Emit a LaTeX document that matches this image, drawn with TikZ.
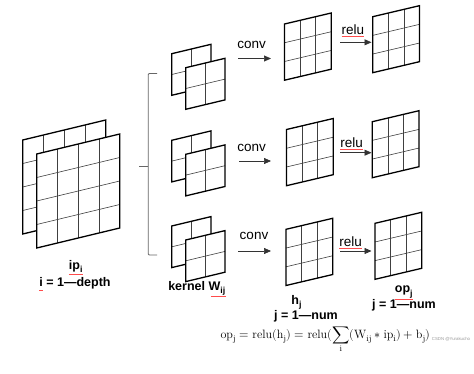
\documentclass[tikz,border=0pt]{standalone}
\usepackage{fontspec}
\usepackage{unicode-math}
\newfontfamily\lblfont{Liberation Sans}
\usetikzlibrary{arrows.meta}
\tikzset{
  gridline/.style={draw=black!75, line width=0.6pt},
  sheetline/.style={draw=black, line width=1.3pt, line join=miter},
  flow/.style={draw=black!80, line width=0.7pt, -{Triangle[length=7pt,width=6pt]}},
  oplabel/.style={font=\lblfont\fontsize{13.5}{15}\selectfont, inner sep=0pt},
  boldlabel/.style={font=\lblfont\bfseries\fontsize{12.5}{14}\selectfont, inner sep=0pt},
  redul/.style={draw=red!70, line width=0.45pt},
  bracket/.style={draw=black!60, line width=0.8pt, rounded corners=1pt}
}
% #1 x, #2 y (top-left), #3 width, #4 height, #5 rise of right edge, #6 cells per side
\newcommand\gridsheet[6]{%
  \fill[white] (#1,#2) -- ++(#3,-#5) -- ++(0,#4) -- ++(-#3,#5) -- cycle;
  \pgfmathtruncatemacro\sheetm{#6-1}
  \foreach \k in {1,...,\sheetm}{
    \draw[gridline] ({#1+\k*#3/#6},{#2-\k*#5/#6}) -- ++(0,#4);
    \draw[gridline] (#1,{#2+\k*#4/#6}) -- ++(#3,-#5);
  }
  \draw[sheetline] (#1,#2) -- ++(#3,-#5) -- ++(0,#4) -- ++(-#3,#5) -- cycle;
}
\begin{document}
\begin{tikzpicture}[x=1pt,y=-1pt]
\fill[white] (0,0) rectangle (474,373);
\useasboundingbox (0,0) rectangle (474,373);

% input stack
\gridsheet{22.7}{140}{83}{94}{20}{4}
\gridsheet{36.7}{154}{83}{94}{20}{4}

% bracket
\coordinate (bt) at (157,73.5);
\coordinate (bb) at (157,255);
\coordinate (bm) at (139,166.5);
\draw[bracket] (bt) -- (148.3,73.5) -- (148.3,255) -- (bb);
\draw[bracket] (148.3,166.5) -- (bm);

% kernels
\foreach \yk in {67.7,154.3,240}{
  \gridsheet{171.7}{\yk-14}{39.3}{41.6}{9.4}{2}
  \gridsheet{185.7}{\yk}{39.3}{41.6}{9.4}{2}
}

% hidden layers
\gridsheet{284.5}{24}{46.7}{56.2}{11}{3}
\gridsheet{286.5}{129.5}{46.7}{56.2}{11}{3}
\gridsheet{286}{229.3}{46.7}{56.2}{11}{3}

% outputs
\gridsheet{372.7}{16.7}{46.7}{56}{11}{3}
\gridsheet{372.3}{121.7}{46.7}{56}{11}{3}
\gridsheet{375}{223.3}{46.7}{56}{11}{3}

% conv arrows
\coordinate (c1s) at (238,58.5); \coordinate (c1e) at (271,58.5);
\coordinate (c2s) at (239,161);  \coordinate (c2e) at (271,161);
\coordinate (c3s) at (238,251);  \coordinate (c3e) at (271,251);
\draw[flow] (c1s) -- (c1e);
\draw[flow] (c2s) -- (c2e);
\draw[flow] (c3s) -- (c3e);
\node[oplabel] (conv1) at (251.7,45) {conv};
\node[oplabel] (conv2) at (251.7,148.3) {conv};
\node[oplabel] (conv3) at (254,236) {conv};

% relu arrows
\coordinate (r1s) at (340,42.3);  \coordinate (r1e) at (371.5,42.3);
\coordinate (r2s) at (340,152.7); \coordinate (r2e) at (371.5,152.7);
\coordinate (r3s) at (340,251);   \coordinate (r3e) at (371.5,251);
\draw[flow] (r1s) -- (r1e);
\draw[flow] (r2s) -- (r2e);
\draw[flow] (r3s) -- (r3e);
\node[oplabel] (relu1) at (353,30) {relu};
\node[oplabel] (relu2) at (351.7,142.3) {relu};
\node[oplabel] (relu3) at (350.7,241.7) {relu};
\foreach \n in {relu1,relu2,relu3}{
  \draw[redul] ([yshift=-1.5pt]\n.south west) -- ([yshift=-1.5pt]\n.south east);
}

% labels
\node[boldlabel] (ip) at (76,266.7) {ip\textsubscript{i}};
\node[boldlabel] (ipr) at (75,283) {i = 1—depth};
\node[boldlabel] (ker) at (197,288) {kernel W\textsubscript{ij}};
\node[boldlabel] (h) at (296.7,302) {h\textsubscript{j}};
\node[boldlabel] (hr) at (306,316.7) {j = 1—num};
\node[boldlabel] (op) at (404,292) {op\textsubscript{j}};
\node[boldlabel] (opr) at (404,305.5) {j = 1—num};
\draw[redul] ([yshift=-1pt]ip.south west) -- ([yshift=-1pt]ip.south east);
\draw[redul] ([yshift=-1.5pt]ipr.south west) -- ([yshift=-1.5pt,xshift=4pt]ipr.south west);
\draw[redul] ([yshift=-1pt,xshift=-15pt]ker.south east) -- ([yshift=-1pt]ker.south east);
\draw[redul] ([yshift=-1pt]op.south west) -- ([yshift=-1pt]op.south east);

% formula
\node[anchor=base, inner sep=0pt, font=\fontsize{12.1}{14}\selectfont] (eq) at (325.5,338.5)
  {$\mathrm{op_j} = \mathrm{relu}(\mathrm{h_j}) = \mathrm{relu}(\displaystyle\sum\limits_{\mathrm{i}}(\mathrm{W_{ij}} * \mathrm{ip_i}) + \mathrm{b_j})$};

% watermark
\node[inner sep=0pt, text=black!40, font=\lblfont\fontsize{4.3}{5}\selectfont] (wm) at (451,339) {CSDN @Yurakucho};
\end{tikzpicture}
\end{document}
